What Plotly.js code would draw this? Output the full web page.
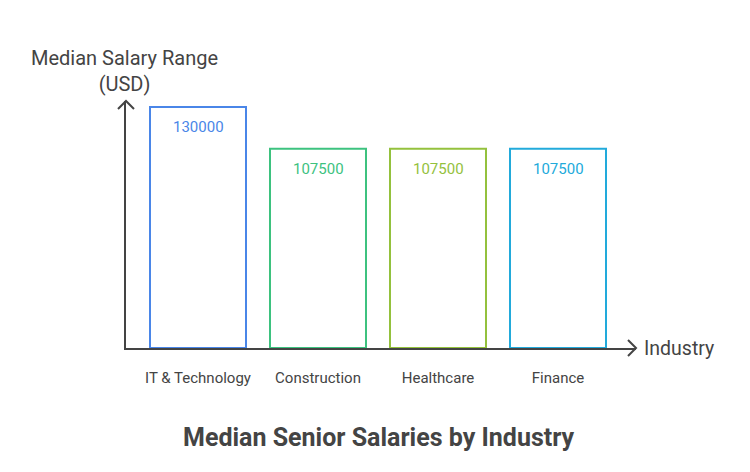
<!DOCTYPE html>
<html>
<head>
<meta charset="utf-8">
<script src="https://cdn.plot.ly/plotly-3.0.1.min.js"></script>
<style>
  html, body { margin: 0; padding: 0; background: #fff; }
  #chart { width: 750px; height: 472px; }
</style>
</head>
<body>
<div id="chart"></div>
<script>
// Median senior salaries (USD) per industry
const industries = ["IT & Technology", "Construction", "Healthcare", "Finance"];
const salaries = [130000, 107500, 107500, 107500];
const barColors = ["#4a86e8", "#3dc27f", "#94c13d", "#22aadb"];

const axisColor = "#444444";
const fontFamily = "Roboto, 'Open Sans', sans-serif";

const trace = {
  type: "bar",
  x: industries,
  y: salaries,
  marker: {
    color: "rgba(255,255,255,1)",
    line: { color: barColors, width: 2 }
  },
  hoverinfo: "skip"
};

// value labels near the top of each bar
const valueLabels = industries.map((cat, i) => ({
  x: cat, y: salaries[i], xref: "x", yref: "y",
  text: String(salaries[i]),
  showarrow: false, yanchor: "top", yshift: -9,
  font: { family: fontFamily, size: 15, color: barColors[i] }
}));

const layout = {
  width: 750, height: 472,
  margin: { l: 126, r: 114, t: 101, b: 124 },
  paper_bgcolor: "#ffffff", plot_bgcolor: "#ffffff",
  showlegend: false,
  bargap: 0.2,
  font: { family: fontFamily, color: axisColor },
  xaxis: {
    type: "category",
    range: [-0.6, 3.65],
    showline: true, linecolor: axisColor, linewidth: 2,
    showgrid: false, zeroline: false, ticks: "",
    ticklabelstandoff: 15,
    tickfont: { family: fontFamily, size: 15, color: axisColor },
    fixedrange: true
  },
  yaxis: {
    range: [0, 133300],
    showline: true, linecolor: axisColor, linewidth: 2,
    showgrid: false, zeroline: false, showticklabels: false, ticks: "",
    fixedrange: true
  },
  shapes: [
    // arrowhead at the top of the y axis
    {
      type: "path", xref: "paper", yref: "paper",
      xsizemode: "pixel", ysizemode: "pixel", xanchor: 0, yanchor: 1,
      path: "M -8 -8 L 0 0 L 8 -8",
      line: { color: axisColor, width: 2 }
    },
    // arrowhead at the right end of the x axis
    {
      type: "path", xref: "paper", yref: "paper",
      xsizemode: "pixel", ysizemode: "pixel", xanchor: 1, yanchor: 0,
      path: "M -8 8 L 0 0 L -8 -8",
      line: { color: axisColor, width: 2 }
    }
  ],
  annotations: valueLabels.concat([
    {
      text: "Median Salary Range<br>(USD)",
      xref: "paper", yref: "paper", x: 0, y: 1,
      xanchor: "center", yanchor: "bottom", yshift: 3, xshift: -2,
      showarrow: false, align: "center",
      font: { family: fontFamily, size: 20, color: axisColor }
    },
    {
      text: "Industry",
      xref: "paper", yref: "paper", x: 1, y: 0,
      xanchor: "left", yanchor: "middle", xshift: 6,
      showarrow: false,
      font: { family: fontFamily, size: 19.5, color: axisColor }
    },
    {
      text: "<b>Median Senior Salaries by Industry</b>",
      xref: "paper", yref: "paper", x: 0.5, y: 0,
      xanchor: "center", yanchor: "middle", yshift: -89, xshift: -2,
      showarrow: false,
      font: { family: fontFamily, size: 25, color: axisColor }
    }
  ])
};

Plotly.newPlot("chart", [trace], layout, { displayModeBar: false, staticPlot: true });
</script>
</body>
</html>
